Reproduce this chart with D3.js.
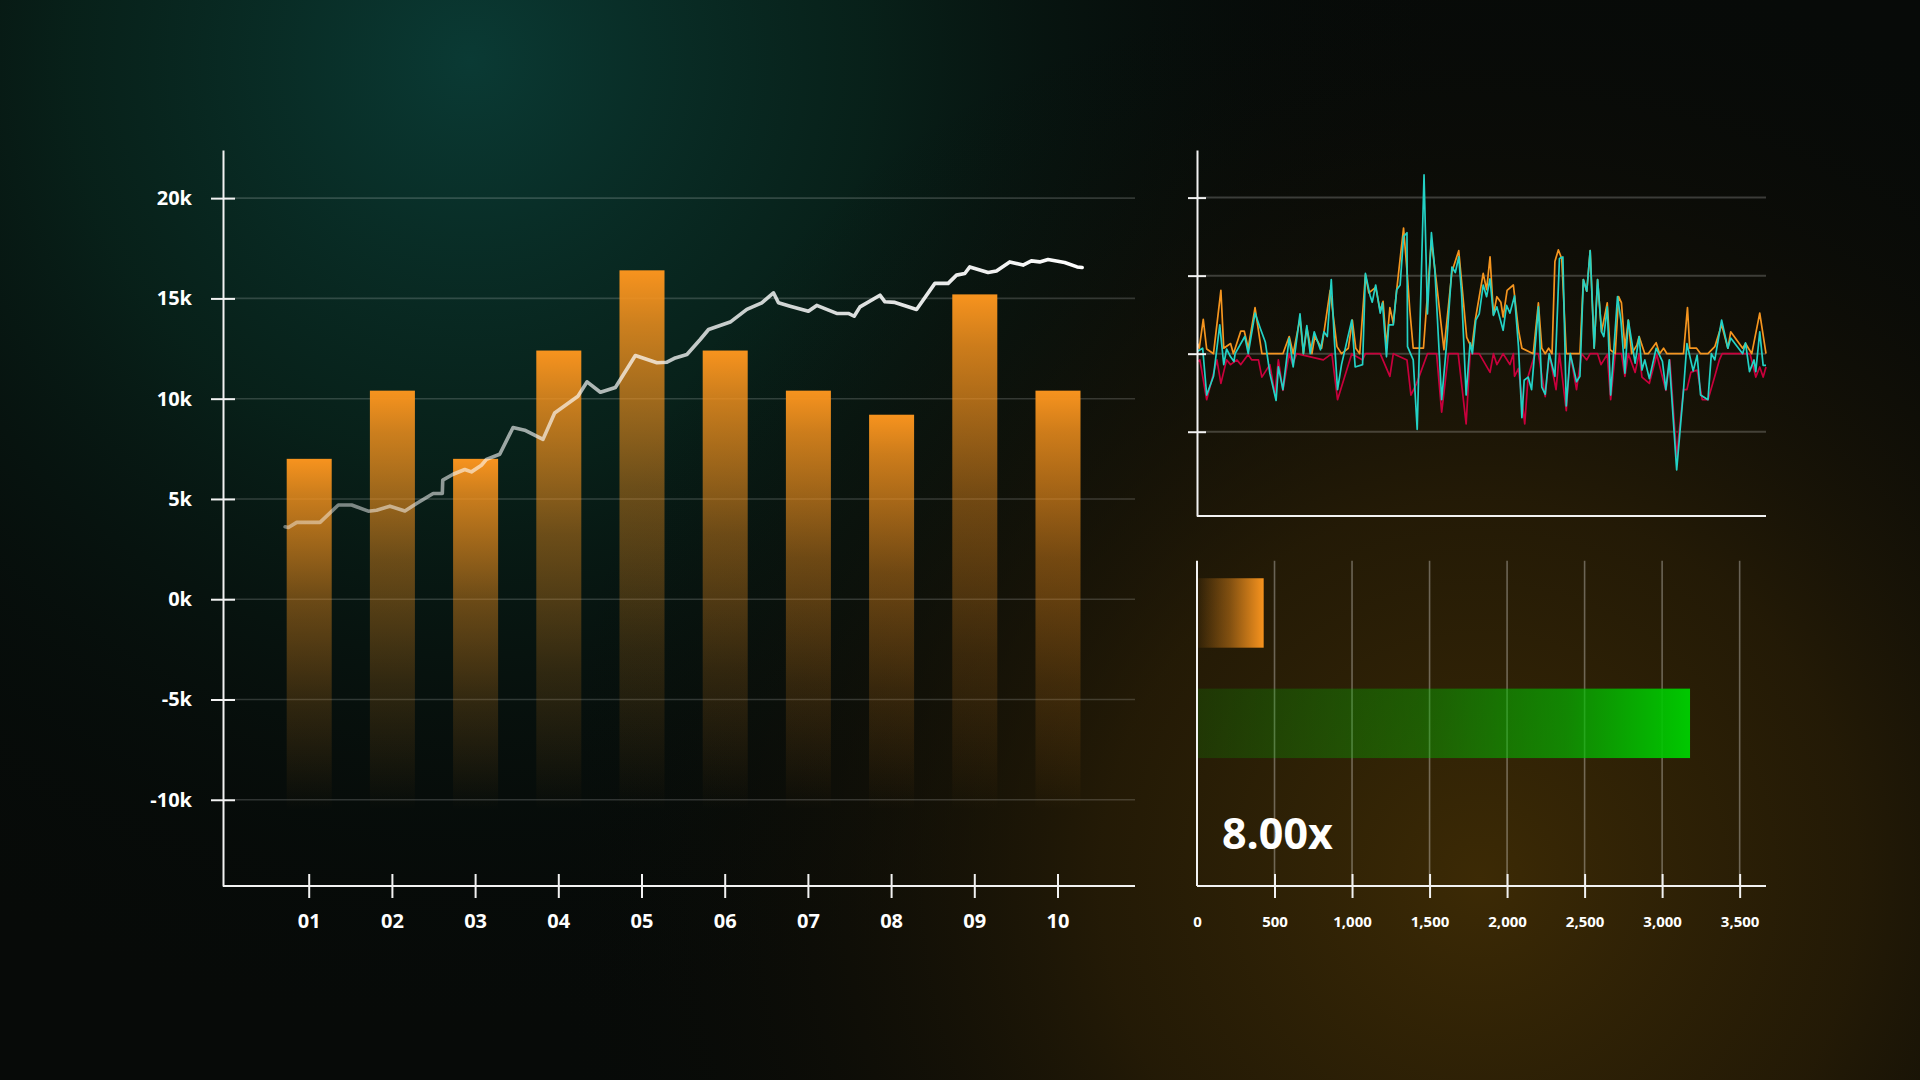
<!DOCTYPE html>
<html><head><meta charset="utf-8">
<script src="https://cdn.jsdelivr.net/npm/d3@7"></script>
<style>
html,body{margin:0;padding:0;background:#060a08;overflow:hidden}
svg{display:block}
</style>
</head><body>
<svg id="chart" width="1920" height="1080"></svg>
<script>
// ---------------- DATA ----------------
const months = ["01","02","03","04","05","06","07","08","09","10"];
const barValues = [7.0, 10.4, 7.0, 12.4, 16.4, 12.4, 10.4, 9.2, 15.2, 10.4]; // thousands
const barFloor = -10.5; // where the fading bars end (thousands)
const leftTicks = [-10, -5, 0, 5, 10, 15, 20];

// cumulative trend line: [month position, value in thousands]
const trend = [
 [0.71,3.61],[0.75,3.58],[0.85,3.83],[1.13,3.83],[1.35,4.70],[1.51,4.70],[1.71,4.39],[1.81,4.44],[1.97,4.64],[2.15,4.40],
 [2.29,4.77],[2.49,5.27],[2.60,5.27],[2.605,5.94],[2.73,6.23],[2.87,6.47],[2.95,6.35],[3.07,6.68],[3.13,6.97],[3.29,7.23],
 [3.45,8.56],[3.59,8.43],[3.81,7.97],[3.95,9.29],[4.23,10.12],[4.34,10.84],[4.50,10.32],[4.68,10.56],[4.92,12.15],[5.18,11.79],
 [5.30,11.82],[5.40,12.03],[5.54,12.20],[5.70,12.95],[5.80,13.45],[6.06,13.82],[6.26,14.45],[6.44,14.78],[6.58,15.28],[6.64,14.78],
 [6.78,14.61],[7.00,14.36],[7.10,14.65],[7.34,14.25],[7.48,14.25],[7.55,14.11],[7.62,14.58],[7.86,15.16],[7.92,14.83],[8.04,14.80],
 [8.30,14.45],[8.52,15.75],[8.68,15.75],[8.78,16.16],[8.88,16.24],[8.94,16.57],[9.16,16.29],[9.26,16.37],[9.42,16.82],[9.58,16.66],
 [9.68,16.87],[9.78,16.82],[9.88,16.94],[10.08,16.79],[10.23,16.57],[10.29,16.54]
];

// top-right oscillator: [sample position 0..100, value]
const sparkTicks = [-1, 0, 1, 2];
const cyanSeries = [
 [0.1,0.03],[1.0,0.07],[1.7,-0.53],[2.9,-0.29],[4.0,0.37],[4.7,-0.14],[5.2,0.06],[5.9,-0.04],[6.5,-0.10],[6.7,0.0],
 [8.4,0.22],[9.0,0.0],[10.2,0.52],[11.1,0.33],[12.0,0.15],[12.8,-0.25],[13.9,-0.60],[14.3,-0.17],[15.1,-0.46],[16.2,0.20],
 [16.9,-0.17],[18.1,0.51],[18.7,0.0],[19.3,0.36],[19.9,0.0],[20.6,0.28],[21.7,0.05],[22.3,0.28],[22.9,0.22],[23.6,0.95],
 [24.1,0.22],[24.7,-0.46],[25.4,-0.14],[27.2,0.43],[27.8,-0.17],[29.1,-0.14],[29.6,1.03],[30.4,0.75],[30.8,0.66],[31.4,0.88],
 [32.2,0.52],[32.6,0.65],[33.3,-0.04],[33.7,0.37],[34.5,0.37],[35.1,0.82],[35.7,0.88],[36.3,1.50],[36.9,1.55],[37.0,0.09],
 [38.0,-0.08],[38.7,-0.97],[39.9,2.29],[40.5,0.51],[41.2,1.55],[41.8,1.07],[43.0,-0.59],[43.9,0.15],[44.8,1.11],[45.4,1.04],
 [46.0,1.24],[46.5,0.77],[47.3,-0.53],[48.0,0.14],[48.4,0.0],[49.0,0.43],[49.6,0.51],[50.3,0.88],[50.9,0.73],[51.5,0.96],
 [52.1,0.49],[52.7,0.60],[53.8,0.30],[54.4,0.62],[55.0,0.52],[55.8,0.74],[56.5,0.09],[57.1,-0.82],[57.5,-0.34],[58.2,-0.30],
 [58.8,-0.46],[60.0,0.60],[60.6,-0.43],[61.2,-0.52],[61.9,0.0],[62.9,-0.29],[63.7,1.22],[64.3,1.24],[64.9,-0.67],[65.6,0.0],
 [66.7,-0.36],[67.3,-0.29],[67.9,0.95],[68.5,0.80],[69.1,1.32],[69.8,0.07],[70.4,0.95],[71.1,0.28],[71.5,0.22],[72.1,0.60],
 [72.7,-0.53],[73.9,0.73],[74.5,0.43],[75.2,-0.25],[75.8,0.43],[77.0,-0.12],[77.7,0.22],[78.2,-0.21],[78.7,-0.08],[79.5,-0.32],
 [80.7,0.07],[81.8,-0.10],[82.4,-0.46],[83.0,-0.08],[84.3,-1.49],[85.5,-0.47],[86.1,0.13],[87.2,-0.22],[87.9,-0.02],[88.5,-0.53],
 [89.8,-0.59],[90.4,0.0],[91.0,-0.08],[92.2,0.43],[93.3,0.07],[93.8,0.20],[95.9,0.0],[96.4,0.14],[97.1,-0.23],[97.9,-0.08],
 [98.2,-0.23],[98.9,0.28],[99.5,-0.15],[100,-0.15]
];
const orangeSeries = [
 [0.1,0.13],[0.4,0.07],[1.1,0.44],[1.7,0.06],[2.9,0.0],[4.2,0.81],[4.7,0.07],[5.9,0.13],[6.4,0.0],[7.7,0.29],
 [8.3,0.29],[9.0,0.07],[10.2,0.59],[11.4,0.0],[15.1,0.0],[16.2,0.22],[16.9,0.0],[18.1,0.45],[18.7,0.0],[19.3,0.33],
 [20.2,0.0],[20.7,0.22],[21.9,0.07],[23.4,0.81],[24.6,0.09],[25.4,0.0],[26.6,0.07],[27.3,0.43],[27.9,0.07],[28.6,0.0],
 [29.6,1.01],[30.2,0.78],[31.4,0.85],[32.2,0.55],[32.7,0.67],[33.3,0.09],[33.9,0.59],[34.5,0.39],[35.1,0.82],[36.3,1.61],
 [36.9,1.07],[37.4,0.56],[38.0,0.07],[39.2,0.07],[39.8,0.07],[41.2,1.45],[42.1,0.90],[43.4,0.05],[44.8,1.05],[46.0,1.32],
 [47.4,0.21],[48.3,0.07],[48.9,0.43],[50.3,1.03],[50.9,0.82],[51.5,1.24],[52.1,0.50],[52.7,0.73],[53.4,0.66],[53.8,0.47],
 [54.5,0.81],[55.6,0.88],[56.5,0.30],[57.1,0.07],[59.1,0.0],[60.0,0.65],[60.6,0.07],[61.2,0.0],[61.8,0.07],[62.4,0.0],
 [62.9,1.18],[63.5,1.33],[64.1,1.22],[64.9,0.0],[67.3,0.0],[67.9,0.95],[68.5,0.80],[69.1,1.32],[69.8,0.07],[70.4,0.95],
 [71.1,0.28],[72.1,0.65],[72.6,0.05],[73.5,0.0],[74.1,0.73],[74.6,0.65],[75.2,0.07],[75.8,0.43],[76.4,0.0],[77.3,0.11],
 [77.7,0.22],[78.7,0.0],[79.3,0.0],[80.7,0.14],[81.3,0.0],[82.0,0.07],[82.6,0.0],[85.5,0.0],[86.2,0.59],[86.6,0.07],
 [87.8,0.07],[88.5,0.0],[89.8,0.0],[91.0,0.09],[92.2,0.37],[93.3,0.07],[93.8,0.28],[95.9,0.07],[96.4,0.13],[97.5,0.0],
 [98.9,0.52],[100,0.0]
];
const redSeries = [
 [0.2,-0.10],[0.5,-0.08],[1.7,-0.59],[2.9,-0.25],[3.5,-0.08],[4.2,-0.38],[5.2,-0.08],[5.9,-0.14],[7.0,-0.08],[7.7,-0.14],
 [9.0,-0.01],[9.6,-0.08],[10.8,-0.08],[11.4,-0.30],[12.8,-0.14],[13.7,-0.52],[14.3,-0.08],[15.1,-0.47],[16.2,0.0],[16.8,-0.14],
 [17.5,0.0],[22.2,-0.08],[23.7,0.0],[24.7,-0.59],[27.2,0.0],[29.1,-0.08],[29.6,0.0],[32.2,0.0],[33.9,-0.29],[34.5,0.0],
 [36.9,-0.08],[37.6,-0.53],[38.6,-0.38],[40.5,0.0],[42.1,0.0],[43.0,-0.75],[44.2,0.0],[45.9,0.0],[47.3,-0.90],[48.0,0.0],
 [49.6,0.0],[51.5,-0.24],[52.1,0.0],[52.7,-0.14],[53.8,0.0],[55.0,-0.14],[55.6,0.0],[55.8,-0.29],[56.5,-0.19],[57.6,-0.90],
 [58.2,-0.29],[59.4,0.0],[60.0,0.0],[61.2,-0.55],[61.9,0.0],[63.1,-0.46],[63.7,0.0],[64.9,-0.73],[65.6,0.0],[66.7,-0.46],
 [67.6,0.0],[68.5,-0.08],[69.1,0.0],[70.4,0.0],[71.0,-0.14],[72.1,-0.01],[72.7,-0.59],[73.5,0.0],[74.6,0.0],[75.2,-0.29],
 [75.8,0.0],[77.0,-0.24],[77.7,0.0],[78.2,-0.30],[79.5,-0.38],[80.8,-0.01],[82.4,-0.47],[83.1,-0.08],[84.3,-1.32],[85.5,-0.46],
 [86.1,-0.46],[86.8,-0.24],[87.9,-0.21],[88.8,-0.59],[89.8,-0.59],[91.0,-0.29],[91.8,-0.08],[92.3,0.0],[97.2,0.0],[98.2,-0.30],
 [98.9,-0.17],[99.5,-0.30],[100,-0.17]
];

// bottom-right comparison bars
const compCategories = ["before", "after", "ratio"];
const compValues = [430, 3180];
const compTicks = [0, 500, 1000, 1500, 2000, 2500, 3000, 3500];
const ratioLabel = "8.00x";

// ---------------- DRAW ----------------
const svg = d3.select("#chart");
const FONT = "'Open Sans', 'Noto Sans', sans-serif";
const defs = svg.append("defs");

function radial(id, cx, cy, r, stops) {
  const g = defs.append("radialGradient").attr("id", id).attr("gradientUnits", "userSpaceOnUse")
    .attr("cx", cx).attr("cy", cy).attr("r", r);
  stops.forEach(s => g.append("stop").attr("offset", s[0]).attr("stop-color", s[1]).attr("stop-opacity", s[2]));
}
function linear(id, x1, y1, x2, y2, stops, units) {
  const g = defs.append("linearGradient").attr("id", id)
    .attr("x1", x1).attr("y1", y1).attr("x2", x2).attr("y2", y2);
  if (units) g.attr("gradientUnits", units);
  stops.forEach(s => g.append("stop").attr("offset", s[0]).attr("stop-color", s[1]).attr("stop-opacity", s[2]));
}

radial("bgTeal", 470, 60, 1000, [[0, "#0a3a34", 1], [0.4, "#08281f", 0.75], [0.8, "#060f0c", 0.25], [1, "#060a08", 0]]);
radial("bgBrown", 1480, 880, 950, [[0, "#3c2a05", 1], [0.4, "#2e2005", 0.72], [0.75, "#1a1305", 0.22], [1, "#060a08", 0]]);
linear("barGrad", 0, 0, 0, 1, [[0, "#f7931e", 1], [0.1, "#f7931e", 0.82], [0.4, "#f7931e", 0.42], [0.7, "#f7931e", 0.17], [1, "#f7931e", 0]]);
linear("orangeH", 0, 0, 1, 0, [[0, "#f7931e", 0.05], [0.5, "#f7931e", 0.45], [1, "#f7931e", 1]]);
linear("greenH", 0, 0, 1, 0, [[0, "#00c400", 0.16], [0.45, "#00c400", 0.36], [0.75, "#00c400", 0.62], [1, "#00c800", 1]]);

svg.append("rect").attr("width", 1920).attr("height", 1080).attr("fill", "#070a08");
svg.append("rect").attr("width", 1920).attr("height", 1080).attr("fill", "url(#bgTeal)");
svg.append("rect").attr("width", 1920).attr("height", 1080).attr("fill", "url(#bgBrown)");

// ===== Left chart =====
const L = {x0: 223, x1: 1135, y0: 150, y1: 886};
const yL = d3.scaleLinear().domain([-14.3, 22.4]).range([L.y1, L.y0]);
const xB = d3.scaleBand().domain(months).range([245.1, 1122.1]).paddingInner(0.459).paddingOuter(0.5);
const xT = d3.scaleLinear().domain([1, 10])
  .range([xB(months[0]) + xB.bandwidth() / 2, xB(months[9]) + xB.bandwidth() / 2]);

linear("trendGrad", xT(0.7), 0, xT(10.3), 0, [[0, "#ffffff", 0.42], [0.5, "#ffffff", 0.75], [1, "#ffffff", 1]], "userSpaceOnUse");

const left = svg.append("g");
left.selectAll("line.grid").data(leftTicks).join("line")
  .attr("x1", L.x0).attr("x2", L.x1).attr("y1", d => yL(d)).attr("y2", d => yL(d))
  .attr("stroke", "#ffffff").attr("stroke-opacity", 0.17).attr("stroke-width", 1.6);

left.selectAll("rect.bar").data(months).join("rect")
  .attr("x", d => xB(d)).attr("width", xB.bandwidth())
  .attr("y", (d, i) => yL(barValues[i]))
  .attr("height", (d, i) => yL(barFloor) - yL(barValues[i]))
  .attr("fill", "url(#barGrad)");

left.append("path").datum(trend)
  .attr("d", d3.line().x(d => xT(d[0])).y(d => yL(d[1])))
  .attr("fill", "none").attr("stroke", "url(#trendGrad)").attr("stroke-width", 3.6)
  .attr("stroke-linejoin", "round").attr("stroke-linecap", "round");

const yAxisL = left.append("g").attr("transform", `translate(${L.x0},0)`)
  .call(d3.axisLeft(yL).tickValues(leftTicks).tickSize(12).tickSizeOuter(0).tickPadding(19).tickFormat(d => d + "k"));
yAxisL.selectAll(".tick line").attr("x1", 12);
const xAxisL = left.append("g").attr("transform", `translate(0,${L.y1})`)
  .call(d3.axisBottom(xB).tickSize(12).tickSizeOuter(0).tickPadding(16));
xAxisL.select(".domain").remove();
xAxisL.selectAll(".tick line").attr("y1", -12);
left.append("line").attr("x1", L.x0).attr("x2", L.x1).attr("y1", L.y1).attr("y2", L.y1)
  .attr("stroke", "#f2f2f2").attr("stroke-width", 2);
[yAxisL, xAxisL].forEach(g => {
  g.selectAll("path,line").attr("stroke", "#f2f2f2").attr("stroke-width", 2);
  g.selectAll("text").attr("fill", "#ffffff").attr("font-family", FONT).attr("font-weight", 700).attr("font-size", 20);
});

// ===== Top-right oscillator =====
const S = {x0: 1197, x1: 1766, y0: 150, y1: 516};
const xS = d3.scaleLinear().domain([0, 100]).range([S.x0, S.x1]);
const yS = d3.scaleLinear().domain([-2.08, 2.61]).range([S.y1, S.y0]);
const spark = svg.append("g");
spark.selectAll("line.grid").data(sparkTicks).join("line")
  .attr("x1", S.x0).attr("x2", S.x1).attr("y1", d => yS(d)).attr("y2", d => yS(d))
  .attr("stroke", "#ffffff").attr("stroke-opacity", 0.2).attr("stroke-width", 2);
const sl = d3.line().x(d => xS(d[0])).y(d => yS(d[1]));
[[redSeries, "#c8003c"], [orangeSeries, "#f5951f"], [cyanSeries, "#23d2c6"]].forEach(([data, col]) => {
  spark.append("path").datum(data).attr("d", sl).attr("fill", "none")
    .attr("stroke", col).attr("stroke-width", 1.7).attr("stroke-linejoin", "round");
});
const yAxisS = spark.append("g").attr("transform", `translate(${S.x0},0)`)
  .call(d3.axisLeft(yS).tickValues(sparkTicks).tickSize(9).tickSizeOuter(0).tickFormat(""));
yAxisS.selectAll(".tick line").attr("x1", 9);
yAxisS.selectAll("path,line").attr("stroke", "#f2f2f2").attr("stroke-width", 2);
spark.append("line").attr("x1", S.x0).attr("x2", S.x1).attr("y1", S.y1).attr("y2", S.y1)
  .attr("stroke", "#f2f2f2").attr("stroke-width", 2);

// ===== Bottom-right comparison =====
const C = {x0: 1197, x1: 1766, y0: 560.7, y1: 886};
const xH = d3.scaleLinear().domain([0, 3670]).range([C.x0, C.x1]);
const yH = d3.scaleBand().domain(compCategories).range([C.y0, C.y1]).paddingInner(0.371).paddingOuter(0.159);
const comp = svg.append("g");
comp.selectAll("line.grid").data(compTicks.slice(1)).join("line")
  .attr("x1", d => xH(d)).attr("x2", d => xH(d)).attr("y1", C.y0).attr("y2", C.y1)
  .attr("stroke", "#ffffff").attr("stroke-opacity", 0.32).attr("stroke-width", 1.6);
comp.selectAll("rect.hbar").data(compValues).join("rect")
  .attr("x", xH(0)).attr("y", (d, i) => yH(compCategories[i]))
  .attr("width", d => xH(d) - xH(0)).attr("height", yH.bandwidth())
  .attr("fill", (d, i) => i === 0 ? "url(#orangeH)" : "url(#greenH)");
comp.append("text").attr("x", xH(0) + 25)
  .attr("y", yH(compCategories[2]) + yH.bandwidth() / 2 + 15)
  .attr("fill", "#ffffff").attr("font-family", FONT).attr("font-weight", 700).attr("font-size", 43)
  .text(ratioLabel);
const xAxisC = comp.append("g").attr("transform", `translate(0,${C.y1})`)
  .call(d3.axisBottom(xH).tickValues(compTicks).tickSize(12).tickSizeOuter(0).tickPadding(18).tickFormat(d3.format(",")));
xAxisC.select(".domain").remove();
xAxisC.selectAll(".tick line").attr("y1", -12).attr("display", d => d === 0 ? "none" : null);
xAxisC.selectAll("line").attr("stroke", "#f2f2f2").attr("stroke-width", 2);
xAxisC.selectAll("text").attr("fill", "#ffffff").attr("font-family", FONT).attr("font-weight", 700).attr("font-size", 15);
comp.append("line").attr("x1", C.x0).attr("x2", C.x1).attr("y1", C.y1).attr("y2", C.y1)
  .attr("stroke", "#f2f2f2").attr("stroke-width", 2);
comp.append("line").attr("x1", C.x0).attr("x2", C.x0).attr("y1", C.y0).attr("y2", C.y1)
  .attr("stroke", "#f2f2f2").attr("stroke-width", 2);
</script>
</body></html>
